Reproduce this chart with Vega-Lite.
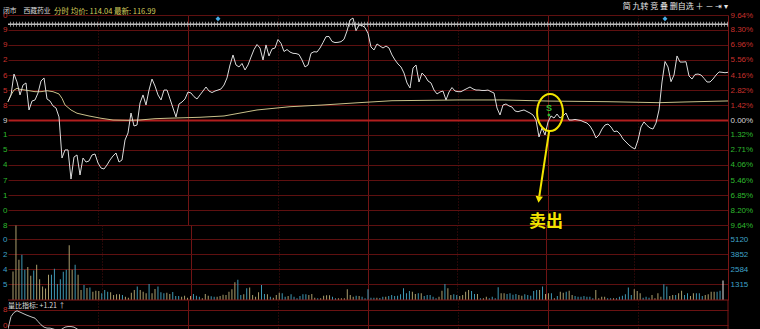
{
  "$schema": "https://vega.github.io/schema/vega-lite/v6.json",
  "background": "#000000",
  "padding": {"left": 1, "top": 3, "right": 0, "bottom": 0},
  "title": {
    "text": "闭市　西藏药业",
    "anchor": "start",
    "frame": "group",
    "font": "Noto Sans CJK SC",
    "fontSize": 6.8,
    "fontWeight": "normal",
    "color": "#dcdcdc",
    "offset": 0,
    "dx": -5,
    "dy": 12
  },
  "datasets": {
    "tick": [
      {"m":0,"p":1.68,"v":2411},{"m":1,"p":2.30,"v":6305},{"m":2,"p":4.22,"v":3408},{"m":3,"p":3.49,"v":3834},{"m":4,"p":2.30,"v":2556},
      {"m":5,"p":3.21,"v":2786},{"m":6,"p":3.40,"v":2045},{"m":7,"p":0.92,"v":2496},{"m":8,"p":1.74,"v":2982},{"m":9,"p":1.84,"v":1764},
      {"m":10,"p":2.48,"v":1133},{"m":11,"p":3.58,"v":963},{"m":12,"p":3.86,"v":2130},{"m":13,"p":1.93,"v":2130},{"m":14,"p":1.74,"v":2641},
      {"m":15,"p":1.29,"v":1363},{"m":16,"p":1.10,"v":1764},{"m":17,"p":0.28,"v":2386},{"m":18,"p":-3.49,"v":2556},{"m":19,"p":-2.75,"v":4626},
      {"m":20,"p":-2.75,"v":2556},{"m":21,"p":-5.42,"v":2982},{"m":22,"p":-3.40,"v":2130},{"m":23,"p":-3.21,"v":852},{"m":24,"p":-5.05,"v":1278},
      {"m":25,"p":-3.49,"v":1022},{"m":26,"p":-3.86,"v":1048},{"m":27,"p":-3.76,"v":707},{"m":28,"p":-3.21,"v":792},{"m":29,"p":-3.12,"v":767},
      {"m":30,"p":-3.95,"v":571},{"m":31,"p":-4.41,"v":852},{"m":32,"p":-4.50,"v":707},{"m":33,"p":-4.13,"v":656},{"m":34,"p":-3.67,"v":426},
      {"m":35,"p":-3.30,"v":486},{"m":36,"p":-3.03,"v":486},{"m":37,"p":-3.86,"v":426},{"m":38,"p":-3.67,"v":281},{"m":39,"p":-1.84,"v":196},
      {"m":40,"p":-1.19,"v":622},{"m":41,"p":0.64,"v":852},{"m":42,"p":-0.55,"v":1133},{"m":43,"p":-0.46,"v":852},{"m":44,"p":1.56,"v":707},
      {"m":45,"p":2.30,"v":571},{"m":46,"p":1.38,"v":1363},{"m":47,"p":2.75,"v":571},{"m":48,"p":3.76,"v":937},{"m":49,"p":3.12,"v":1133},
      {"m":50,"p":2.30,"v":656},{"m":51,"p":1.84,"v":571},{"m":52,"p":2.75,"v":622},{"m":53,"p":2.75,"v":511},{"m":54,"p":1.93,"v":682},
      {"m":55,"p":1.10,"v":341},{"m":56,"p":0.28,"v":341},{"m":57,"p":1.47,"v":281},{"m":58,"p":1.65,"v":366},{"m":59,"p":1.93,"v":196},
      {"m":60,"p":2.57,"v":341},{"m":61,"p":2.48,"v":511},{"m":62,"p":2.14,"v":366},{"m":63,"p":1.93,"v":281},{"m":64,"p":2.30,"v":145},
      {"m":65,"p":2.66,"v":511},{"m":66,"p":3.03,"v":366},{"m":67,"p":2.66,"v":315},{"m":68,"p":2.52,"v":281},{"m":69,"p":2.66,"v":281},
      {"m":70,"p":2.75,"v":341},{"m":71,"p":2.85,"v":452},{"m":72,"p":3.21,"v":426},{"m":73,"p":3.86,"v":707},{"m":74,"p":5.05,"v":912},
      {"m":75,"p":5.97,"v":1508},{"m":76,"p":5.05,"v":1704},{"m":77,"p":4.87,"v":426},{"m":78,"p":5.19,"v":486},{"m":79,"p":4.59,"v":997},
      {"m":80,"p":5.05,"v":1048},{"m":81,"p":5.78,"v":426},{"m":82,"p":6.47,"v":281},{"m":83,"p":6.93,"v":656},{"m":84,"p":6.61,"v":1278},
      {"m":85,"p":5.51,"v":511},{"m":86,"p":6.89,"v":486},{"m":87,"p":5.88,"v":281},{"m":88,"p":6.52,"v":196},{"m":89,"p":6.61,"v":426},
      {"m":90,"p":7.39,"v":622},{"m":91,"p":7.04,"v":571},{"m":92,"p":6.29,"v":281},{"m":93,"p":6.47,"v":341},{"m":94,"p":6.24,"v":486},
      {"m":95,"p":6.12,"v":281},{"m":96,"p":6.10,"v":145},{"m":97,"p":6.01,"v":341},{"m":98,"p":5.51,"v":486},{"m":99,"p":4.87,"v":486},
      {"m":100,"p":5.05,"v":426},{"m":101,"p":6.12,"v":511},{"m":102,"p":6.27,"v":196},{"m":103,"p":6.24,"v":145},{"m":104,"p":6.61,"v":145},
      {"m":105,"p":7.11,"v":366},{"m":106,"p":7.65,"v":400},{"m":107,"p":7.67,"v":400},{"m":108,"p":7.21,"v":281},{"m":109,"p":7.11,"v":145},
      {"m":110,"p":7.13,"v":145},{"m":111,"p":7.19,"v":145},{"m":112,"p":7.41,"v":145},{"m":113,"p":8.17,"v":912},{"m":114,"p":9.18,"v":426},
      {"m":115,"p":9.36,"v":281},{"m":116,"p":8.20,"v":366},{"m":117,"p":8.72,"v":341},{"m":118,"p":8.68,"v":281},{"m":119,"p":8.49,"v":145},
      {"m":120,"p":7.96,"v":912},{"m":121,"p":6.70,"v":196},{"m":122,"p":6.43,"v":196},{"m":123,"p":6.98,"v":196},{"m":124,"p":6.79,"v":170},
      {"m":125,"p":6.61,"v":281},{"m":126,"p":6.79,"v":281},{"m":127,"p":6.61,"v":341},{"m":128,"p":5.97,"v":426},{"m":129,"p":5.51,"v":341},
      {"m":130,"p":5.14,"v":366},{"m":131,"p":4.87,"v":486},{"m":132,"p":4.31,"v":997},{"m":133,"p":3.40,"v":571},{"m":134,"p":2.94,"v":767},
      {"m":135,"p":4.77,"v":707},{"m":136,"p":5.05,"v":511},{"m":137,"p":3.49,"v":571},{"m":138,"p":4.31,"v":571},{"m":139,"p":4.04,"v":341},
      {"m":140,"p":3.58,"v":426},{"m":141,"p":3.40,"v":426},{"m":142,"p":2.75,"v":281},{"m":143,"p":2.39,"v":145},{"m":144,"p":2.57,"v":281},
      {"m":145,"p":2.66,"v":792},{"m":146,"p":1.84,"v":1363},{"m":147,"p":2.57,"v":997},{"m":148,"p":2.98,"v":426},{"m":149,"p":2.66,"v":486},
      {"m":150,"p":2.60,"v":426},{"m":151,"p":2.60,"v":341},{"m":152,"p":2.75,"v":426},{"m":153,"p":2.89,"v":707},{"m":154,"p":3.03,"v":852},
      {"m":155,"p":2.85,"v":767},{"m":156,"p":2.75,"v":511},{"m":157,"p":2.75,"v":511},{"m":158,"p":2.71,"v":145},{"m":159,"p":2.71,"v":145},
      {"m":160,"p":2.75,"v":281},{"m":161,"p":2.60,"v":145},{"m":162,"p":2.48,"v":281},{"m":163,"p":1.10,"v":145},{"m":164,"p":0.46,"v":1082},
      {"m":165,"p":1.38,"v":571},{"m":166,"p":1.47,"v":571},{"m":167,"p":1.29,"v":511},{"m":168,"p":1.19,"v":571},{"m":169,"p":0.83,"v":452},
      {"m":170,"p":0.76,"v":511},{"m":171,"p":0.85,"v":426},{"m":172,"p":0.92,"v":366},{"m":173,"p":0.78,"v":486},{"m":174,"p":0.64,"v":426},
      {"m":175,"p":0.46,"v":366},{"m":176,"p":0.00,"v":767},{"m":177,"p":-1.56,"v":852},{"m":178,"p":-0.73,"v":852},{"m":179,"p":-1.38,"v":1133},
      {"m":180,"p":-0.18,"v":511},{"m":181,"p":0.37,"v":571},{"m":182,"p":0.18,"v":571},{"m":183,"p":0.55,"v":145},{"m":184,"p":0.18,"v":341},
      {"m":185,"p":0.37,"v":707},{"m":186,"p":0.64,"v":622},{"m":187,"p":0.00,"v":707},{"m":188,"p":0.00,"v":792},{"m":189,"p":0.05,"v":426},
      {"m":190,"p":0.00,"v":341},{"m":191,"p":-0.05,"v":281},{"m":192,"p":-0.18,"v":281},{"m":193,"p":-0.28,"v":341},{"m":194,"p":-0.55,"v":281},
      {"m":195,"p":-1.01,"v":281},{"m":196,"p":-1.65,"v":145},{"m":197,"p":-1.38,"v":852},{"m":198,"p":-0.83,"v":145},{"m":199,"p":-0.46,"v":281},
      {"m":200,"p":-0.37,"v":281},{"m":201,"p":-0.64,"v":145},{"m":202,"p":-1.07,"v":145},{"m":203,"p":-1.01,"v":145},{"m":204,"p":-1.29,"v":145},
      {"m":205,"p":-1.74,"v":281},{"m":206,"p":-2.02,"v":366},{"m":207,"p":-2.30,"v":486},{"m":208,"p":-2.52,"v":1048},{"m":209,"p":-2.66,"v":426},
      {"m":210,"p":-1.84,"v":912},{"m":211,"p":-0.64,"v":767},{"m":212,"p":-0.18,"v":571},{"m":213,"p":-0.50,"v":196},{"m":214,"p":-0.73,"v":281},
      {"m":215,"p":-0.83,"v":196},{"m":216,"p":-0.28,"v":426},{"m":217,"p":0.92,"v":145},{"m":218,"p":3.49,"v":571},{"m":219,"p":5.37,"v":281},
      {"m":220,"p":4.87,"v":1338},{"m":221,"p":3.52,"v":1133},{"m":222,"p":4.13,"v":341},{"m":223,"p":5.88,"v":426},{"m":224,"p":5.32,"v":426},
      {"m":225,"p":5.32,"v":571},{"m":226,"p":5.35,"v":792},{"m":227,"p":4.04,"v":426},{"m":228,"p":3.76,"v":571},{"m":229,"p":4.18,"v":341},
      {"m":230,"p":4.22,"v":571},{"m":231,"p":4.13,"v":571},{"m":232,"p":3.83,"v":571},{"m":233,"p":3.49,"v":341},{"m":234,"p":3.49,"v":426},
      {"m":235,"p":3.76,"v":486},{"m":236,"p":4.13,"v":707},{"m":237,"p":4.41,"v":707},{"m":238,"p":4.38,"v":707},{"m":239,"p":4.34,"v":792},
      {"m":240,"p":4.38,"v":1644}
    ],
    "avg": [
      {"m":0,"a":1.68},{"m":1,"a":2.30},{"m":2,"a":2.75},{"m":3,"a":2.91},{"m":4,"a":2.82},{"m":7,"a":2.69},{"m":9,"a":2.60},
      {"m":11,"a":2.60},{"m":13,"a":2.69},{"m":15,"a":2.60},{"m":17,"a":2.39},{"m":18,"a":1.99},{"m":19,"a":1.38},{"m":21,"a":0.92},
      {"m":23,"a":0.62},{"m":27,"a":0.37},{"m":31,"a":0.16},{"m":35,"a":0.00},{"m":40,"a":-0.03},{"m":44,"a":0.00},{"m":49,"a":0.12},
      {"m":53,"a":0.16},{"m":64,"a":0.25},{"m":72,"a":0.37},{"m":83,"a":0.92},{"m":94,"a":1.22},{"m":105,"a":1.38},{"m":117,"a":1.59},
      {"m":128,"a":1.77},{"m":150,"a":1.84},{"m":165,"a":1.84},{"m":180,"a":1.74},{"m":200,"a":1.68},{"m":217,"a":1.59},{"m":225,"a":1.65},
      {"m":240,"a":1.75}
    ],
    "ratio": [
      {"m":0,"r":2.82},{"m":1,"r":3.45},{"m":2,"r":3.66},{"m":3,"r":3.75},{"m":4,"r":3.68},{"m":6,"r":3.54},{"m":8,"r":3.42},
      {"m":9,"r":3.37},{"m":10,"r":3.20},{"m":11,"r":3.03},{"m":12,"r":2.91},{"m":13,"r":2.86},{"m":14,"r":2.86},{"m":15,"r":2.82},
      {"m":17,"r":2.72},{"m":19,"r":2.91},{"m":20,"r":2.94},{"m":21,"r":2.94},{"m":22,"r":2.91},{"m":23,"r":2.82},{"m":25,"r":2.62},
      {"m":28,"r":2.48},{"m":32,"r":2.40}
    ],
    "events": [{"m":70},{"m":219}],
    "signal": [{"m":180.3,"p":0.46,"t":"S"}]
  },
  "spacing": 0,
  "bounds": "flush",
  "vconcat": [
    {
      "width": 720,
      "height": 210,
      "title": {
        "text": "简 九转 竞 叠 删自选 ＋ － ⇥ ▾",
        "anchor": "end",
        "frame": "group",
        "font": "Noto Sans CJK SC",
        "fontSize": 8,
        "fontWeight": "normal",
        "color": "#e6e6e6",
        "offset": 0
      },
      "layer": [
        {
          "data": {"values": [{}]},
          "mark": {"type": "rule", "color": "#8a8a8a", "strokeWidth": 5, "strokeDash": [1, 2]},
          "encoding": {"y": {"datum": 8.8, "type": "quantitative", "axis": null}}
        },
        {
          "data": {"values": [{}]},
          "mark": {"type": "rule", "color": "#bcbcbc", "strokeWidth": 1.5},
          "encoding": {"y": {"datum": 8.8, "type": "quantitative", "axis": null}}
        },
        {
          "data": {"name": "events"},
          "mark": {"type": "point", "shape": "diamond", "filled": true, "color": "#46ace6", "size": 24, "opacity": 1},
          "encoding": {
            "x": {"field": "m", "type": "quantitative"},
            "y": {"datum": 9.3, "type": "quantitative", "axis": null}
          }
        },
        {
          "data": {"name": "avg"},
          "mark": {"type": "line", "color": "#c9c18a", "strokeWidth": 1},
          "encoding": {
            "x": {"field": "m", "type": "quantitative"},
            "y": {
              "field": "a",
              "type": "quantitative",
              "axis": {
                "orient": "right",
                "values": [-9.64, -8.263, -6.886, -5.509, -4.131, -2.754, -1.377, 0, 1.377, 2.754, 4.131, 5.509, 6.886, 8.263, 9.64],
                "labelExpr": "['9.64%','8.20%','6.85%','5.46%','4.06%','2.71%','1.32%','0.00%','1.42%','2.82%','4.16%','5.56%','6.96%','8.30%','9.64%'][round(datum.value / 1.37714) + 7]",
                "labelColor": {"condition": [{"test": "datum.value > 0.5", "value": "#c8302c"}, {"test": "datum.value < -0.5", "value": "#2eb82e"}], "value": "#d6d6d6"},
                "labelFontSize": 8,
                "labelPadding": 2,
                "labelOverlap": false,
                "labelBound": false,
                "labelFlush": false,
                "ticks": false,
                "grid": false,
                "domain": true,
                "domainColor": "#7a1616",
                "title": null,
                "minExtent": 32,
                "maxExtent": 32
              }
            }
          }
        },
        {
          "data": {"name": "tick"},
          "mark": {"type": "line", "color": "#dcdcdc", "strokeWidth": 1},
          "encoding": {
            "x": {
              "field": "m",
              "type": "quantitative",
              "scale": {"domain": [0, 240], "nice": false, "zero": false},
              "axis": {
                "values": [30, 60, 90, 120, 150, 180, 210],
                "grid": true,
                "gridColor": {"condition": {"test": "datum.value % 60 == 0", "value": "#701414"}, "value": "#4e0e0e"},
                "gridDash": {"condition": {"test": "datum.value % 60 == 0", "value": []}, "value": [1, 2]},
                "labels": false,
                "ticks": false,
                "domain": false,
                "title": null,
                "minExtent": 0,
                "maxExtent": 0
              }
            },
            "y": {
              "field": "p",
              "type": "quantitative",
              "scale": {"domain": [-9.64, 9.64], "nice": false, "zero": false},
              "axis": {
                "orient": "left",
                "values": [-9.64, -8.263, -6.886, -5.509, -4.131, -2.754, -1.377, 0, 1.377, 2.754, 4.131, 5.509, 6.886, 8.263, 9.64],
                "labelExpr": "['8','0','1','7','4','5','1','9','8','5','6','2','9','9','0'][round(datum.value / 1.37714) + 7]",
                "labelColor": {"condition": [{"test": "datum.value > 0.5", "value": "#c8302c"}, {"test": "datum.value < -0.5", "value": "#2eb82e"}], "value": "#d6d6d6"},
                "labelFontSize": 8,
                "labelPadding": 1,
                "labelOverlap": false,
                "labelBound": false,
                "labelFlush": false,
                "ticks": false,
                "domain": false,
                "title": null,
                "grid": true,
                "gridColor": {"condition": {"test": "abs(datum.value) < 0.01", "value": "#b21e1e"}, "value": "#5e1010"},
                "gridWidth": {"condition": {"test": "abs(datum.value) < 0.01", "value": 2}, "value": 1},
                "minExtent": 7,
                "maxExtent": 7
              }
            }
          }
        },
        {
          "data": {"name": "signal"},
          "mark": {"type": "point", "shape": "diamond", "filled": true, "color": "#33c433", "size": 12, "opacity": 1},
          "encoding": {
            "x": {"field": "m", "type": "quantitative"},
            "y": {"field": "p", "type": "quantitative", "axis": null}
          }
        },
        {
          "data": {"name": "signal"},
          "mark": {"type": "text", "color": "#33c433", "fontSize": 9, "fontWeight": "bold", "font": "Liberation Sans", "dy": -7},
          "encoding": {
            "x": {"field": "m", "type": "quantitative"},
            "y": {"field": "p", "type": "quantitative", "axis": null},
            "text": {"field": "t"}
          }
        },
        {
          "data": {"values": [{}]},
          "mark": {
            "type": "point",
            "shape": "M0,-1 A0.7,1 0 1,1 0,1 A0.7,1 0 1,1 0,-1 Z",
            "filled": false,
            "stroke": "#f2e400",
            "strokeWidth": 2,
            "size": 1369,
            "opacity": 1
          },
          "encoding": {
            "x": {"datum": 180.67, "type": "quantitative"},
            "y": {"datum": 0.69, "type": "quantitative", "axis": null}
          }
        },
        {
          "data": {"values": [{}]},
          "mark": {"type": "rule", "color": "#f2e400", "strokeWidth": 2},
          "encoding": {
            "x": {"datum": 180.4, "type": "quantitative"},
            "y": {"datum": -0.98, "type": "quantitative", "axis": null},
            "x2": {"datum": 177.1},
            "y2": {"datum": -7.0}
          }
        },
        {
          "data": {"values": [{}]},
          "mark": {"type": "point", "shape": "triangle-down", "filled": true, "color": "#f2e400", "size": 55, "angle": 7, "opacity": 1},
          "encoding": {
            "x": {"datum": 176.95, "type": "quantitative"},
            "y": {"datum": -7.3, "type": "quantitative", "axis": null}
          }
        },
        {
          "data": {"values": [{}]},
          "mark": {"type": "text", "text": "卖出", "color": "#f2e400", "font": "Noto Sans CJK SC", "fontSize": 17, "fontWeight": "bold", "baseline": "middle", "align": "center"},
          "encoding": {
            "x": {"datum": 179.3, "type": "quantitative"},
            "y": {"datum": -9.32, "type": "quantitative", "axis": null}
          }
        }
      ],
      "resolve": {"axis": {"y": "independent"}}
    },
    {
      "width": 720,
      "height": 75,
      "title": {
        "text": "分时 均价: 114.04 最新: 116.99",
        "anchor": "start",
        "frame": "group",
        "font": "Noto Sans CJK SC",
        "fontSize": 7.5,
        "fontWeight": "normal",
        "color": "#d4cc5c",
        "offset": 3,
        "dx": 46,
        "dy": -207
      },
      "layer": [
        {
          "data": {"name": "tick"},
          "transform": [
            {"window": [{"op": "lag", "field": "p", "as": "prev"}], "sort": [{"field": "m", "order": "ascending"}]},
            {"calculate": "datum.m == 240 ? 'w' : ((datum.prev == null || datum.p >= datum.prev) ? 'u' : 'd')", "as": "dir"}
          ],
          "mark": {"type": "bar", "width": 1},
          "encoding": {
            "x": {
              "field": "m",
              "type": "quantitative",
              "scale": {"domain": [0, 240], "nice": false, "zero": false},
              "axis": {
                "values": [30, 60, 90, 120, 150, 180, 210],
                "grid": true,
                "gridColor": {"condition": {"test": "datum.value % 60 == 0", "value": "#701414"}, "value": "#4e0e0e"},
                "gridDash": {"condition": {"test": "datum.value % 60 == 0", "value": []}, "value": [1, 2]},
                "labels": false,
                "ticks": false,
                "domain": false,
                "title": null,
                "minExtent": 0,
                "maxExtent": 0
              }
            },
            "y": {
              "field": "v",
              "type": "quantitative",
              "scale": {"domain": [0, 6340], "nice": false},
              "axis": {
                "orient": "left",
                "values": [1315, 2584, 3852, 5120],
                "labelExpr": "slice(toString(datum.value), -1)",
                "labelColor": "#3fa2c8",
                "labelFontSize": 8,
                "labelPadding": 1,
                "labelOverlap": false,
                "ticks": false,
                "domain": false,
                "title": null,
                "grid": true,
                "gridColor": "#5e1010",
                "minExtent": 7,
                "maxExtent": 7
              }
            },
            "color": {
              "field": "dir",
              "type": "nominal",
              "scale": {"domain": ["u", "d", "w"], "range": ["#aa9e6c", "#3f98b4", "#e8e8e8"]},
              "legend": null
            }
          }
        },
        {
          "data": {"values": [{}]},
          "mark": {"type": "rule", "color": "#8a1818"},
          "encoding": {
            "y": {
              "datum": 0,
              "type": "quantitative",
              "axis": {
                "orient": "right",
                "values": [1315, 2584, 3852, 5120],
                "format": "d",
                "labelColor": "#3fa2c8",
                "labelFontSize": 8,
                "labelPadding": 2,
                "labelOverlap": false,
                "ticks": false,
                "grid": false,
                "domain": true,
                "domainColor": "#7a1616",
                "title": null,
                "minExtent": 32,
                "maxExtent": 32
              }
            }
          }
        }
      ],
      "resolve": {"axis": {"y": "independent"}}
    },
    {
      "width": 720,
      "height": 41,
      "title": {
        "text": "量比指标: +1.21 ↑",
        "anchor": "start",
        "frame": "group",
        "font": "Noto Sans CJK SC",
        "fontSize": 7,
        "fontWeight": "normal",
        "color": "#dedede",
        "offset": -9
      },
      "layer": [
        {
          "data": {"name": "ratio"},
          "mark": {"type": "line", "color": "#c4c4c4", "strokeWidth": 1, "clip": true},
          "encoding": {
            "x": {
              "field": "m",
              "type": "quantitative",
              "scale": {"domain": [0, 240], "nice": false, "zero": false},
              "axis": {
                "values": [30, 60, 90, 120, 150, 180, 210],
                "grid": true,
                "gridColor": {"condition": {"test": "datum.value % 60 == 0", "value": "#701414"}, "value": "#4e0e0e"},
                "gridDash": {"condition": {"test": "datum.value % 60 == 0", "value": []}, "value": [1, 2]},
                "labels": false,
                "ticks": false,
                "domain": false,
                "title": null,
                "minExtent": 0,
                "maxExtent": 0
              }
            },
            "y": {
              "field": "r",
              "type": "quantitative",
              "scale": {"domain": [2.2, 4.3], "nice": false, "zero": false},
              "axis": {
                "orient": "left",
                "values": [3.0, 3.8],
                "labelExpr": "slice(format(datum.value, '.1f'), -1)",
                "labelColor": "#c8302c",
                "labelFontSize": 8,
                "labelPadding": 1,
                "labelOverlap": false,
                "ticks": false,
                "domain": false,
                "title": null,
                "grid": true,
                "gridColor": "#6a1212",
                "minExtent": 7,
                "maxExtent": 7
              }
            }
          }
        },
        {
          "data": {"values": [{}]},
          "mark": {"type": "rule", "color": "#7a1616"},
          "encoding": {"x": {"datum": 240, "type": "quantitative"}}
        }
      ]
    }
  ],
  "config": {
    "view": {"stroke": null},
    "axis": {"labelFont": "Liberation Sans"}
  }
}
